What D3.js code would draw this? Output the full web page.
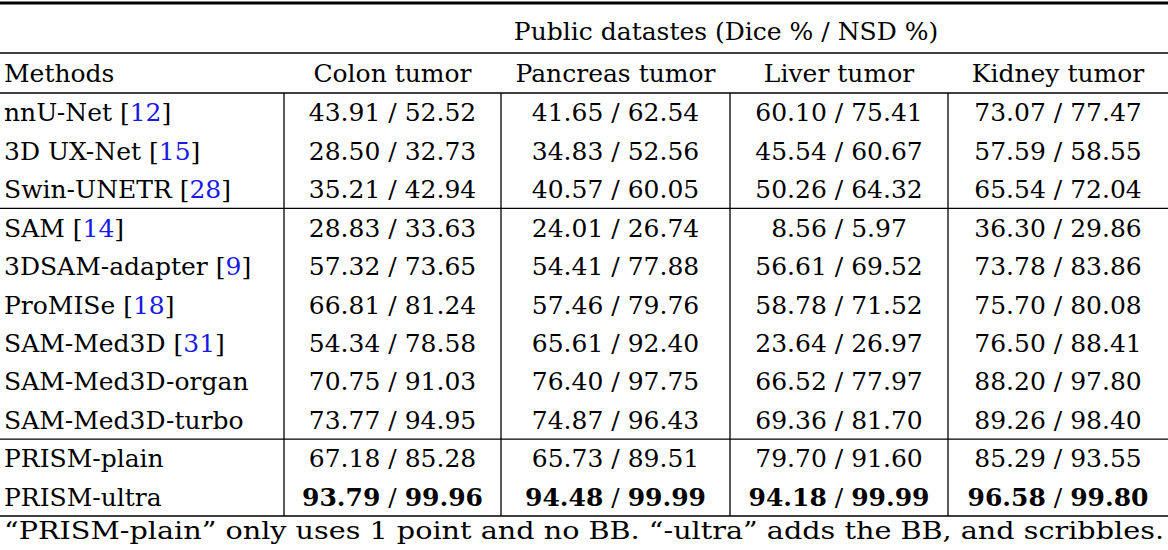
<!DOCTYPE html>
<html><head><meta charset="utf-8">
<script src="https://cdn.jsdelivr.net/npm/d3@7"></script>
<style>body{margin:0;background:#fff}</style>
</head><body><svg id="t" width="1168" height="550"></svg>
<script>
const methods = ["nnU-Net", "3D UX-Net", "Swin-UNETR", "SAM", "3DSAM-adapter", "ProMISe", "SAM-Med3D", "SAM-Med3D-organ", "SAM-Med3D-turbo", "PRISM-plain", "PRISM-ultra"];
const cites = ["12", "15", "28", "14", "9", "18", "31", null, null, null, null];
const datasets = ["Colon tumor", "Pancreas tumor", "Liver tumor", "Kidney tumor"];
const dice = [
  [43.91, 41.65, 60.10, 73.07],
  [28.50, 34.83, 45.54, 57.59],
  [35.21, 40.57, 50.26, 65.54],
  [28.83, 24.01, 8.56, 36.30],
  [57.32, 54.41, 56.61, 73.78],
  [66.81, 57.46, 58.78, 75.70],
  [54.34, 65.61, 23.64, 76.50],
  [70.75, 76.40, 66.52, 88.20],
  [73.77, 74.87, 69.36, 89.26],
  [67.18, 65.73, 79.70, 85.29],
  [93.79, 94.48, 94.18, 96.58]
];
const nsd = [
  [52.52, 62.54, 75.41, 77.47],
  [32.73, 52.56, 60.67, 58.55],
  [42.94, 60.05, 64.32, 72.04],
  [33.63, 26.74, 5.97, 29.86],
  [73.65, 77.88, 69.52, 83.86],
  [81.24, 79.76, 71.52, 80.08],
  [78.58, 92.40, 26.97, 88.41],
  [91.03, 97.75, 77.97, 97.80],
  [94.95, 96.43, 81.70, 98.40],
  [85.28, 89.51, 91.60, 93.55],
  [99.96, 99.99, 99.99, 99.80]
];
const boldRow = 10;
const groupBreaks = [3, 9];
const title = "Public datastes (Dice % / NSD %)";
const footnote = "\u201cPRISM-plain\u201d only uses 1 point and no BB. \u201c-ultra\u201d adds the BB, and scribbles.";

const svg = d3.select("#t");
const font = "DejaVu Serif, serif";
const fs = 25;
const colEdges = [0, 284, 501, 730, 948, 1168];
const y = d3.scaleLinear().domain([0, methods.length]).range([93, 516]);
const rowH = y(1) - y(0);

// rules
const line = (x1, x2, yy, w) => svg.append("line").attr("x1", x1).attr("x2", x2)
  .attr("y1", yy).attr("y2", yy).attr("stroke", "#000").attr("stroke-width", w);
line(0, 1168, 3, 3);
line(0, 1168, 53, 1.3);
line(0, 1168, 93, 1.3);
groupBreaks.forEach(g => line(0, 1168, y(g), 1.3));
line(0, 1168, y(methods.length), 1.3);

// vertical separators for data rows
colEdges.slice(1, 5).forEach(x => svg.append("line").attr("x1", x).attr("x2", x)
  .attr("y1", 93).attr("y2", y(methods.length)).attr("stroke", "#000").attr("stroke-width", 1.3));

const text = (x, yy, anchor) => svg.append("text").attr("x", x).attr("y", yy)
  .attr("text-anchor", anchor).attr("font-family", font).attr("font-size", fs).attr("fill", "#000");

text((284 + 1168) / 2, 40, "middle").text(title);
text(4, 82, "start").text("Methods");
datasets.forEach((d, j) => text((colEdges[j + 1] + colEdges[j + 2]) / 2, 82, "middle").text(d));

methods.forEach((m, i) => {
  const base = y(i) + rowH / 2 + 9;
  const t = text(4, base, "start");
  t.append("tspan").text(m);
  if (cites[i]) {
    t.append("tspan").text(" [");
    t.append("tspan").attr("fill", "#1a1ae6").text(cites[i]);
    t.append("tspan").text("]");
  }
  datasets.forEach((d, j) => {
    const c = text((colEdges[j + 1] + colEdges[j + 2]) / 2, base, "middle");
    const b = i === boldRow ? "bold" : "normal";
    c.append("tspan").attr("font-weight", b).text(dice[i][j].toFixed(2));
    c.append("tspan").text(" / ");
    c.append("tspan").attr("font-weight", b).text(nsd[i][j].toFixed(2));
  });
});

text(584, 539, "middle").attr("textLength", 1160).attr("lengthAdjust", "spacingAndGlyphs").text(footnote);
</script></body></html>
